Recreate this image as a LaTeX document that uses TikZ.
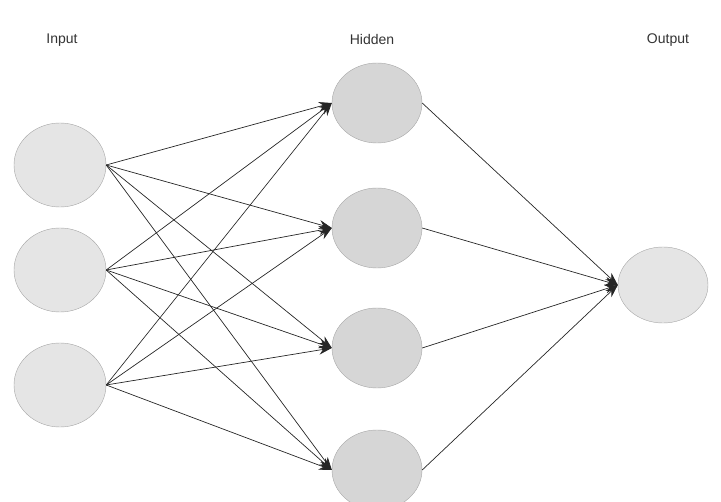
\documentclass[tikz,border=0pt]{standalone}
\usepackage{fontspec}
\setmainfont{Liberation Sans}
\usetikzlibrary{shapes.geometric,arrows.meta}
\begin{document}
\begin{tikzpicture}[x=1pt,y=-1pt,
  inn/.style={ellipse,draw=gray!70,fill=black!10,minimum width=92pt,minimum height=84pt,inner sep=0pt},
  hid/.style={ellipse,draw=gray!70,fill=black!16,minimum width=90pt,minimum height=80pt,inner sep=0pt},
  con/.style={-{Stealth[length=13pt,width=9pt]},black!85,line width=0.7pt},
  lab/.style={font=\fontsize{14}{16}\selectfont,text=black!80}]
\useasboundingbox (0,0) rectangle (721,502);
\node[lab] (li) at (62,40) {Input};
\node[lab] (lh) at (372,40) {Hidden};
\node[lab] (lo) at (668,40) {Output};
\node[inn] (i1) at (60,165) {};
\node[inn] (i2) at (60,270) {};
\node[inn] (i3) at (60,385) {};
\node[hid] (h1) at (377,103) {};
\node[hid] (h2) at (377,228) {};
\node[hid] (h3) at (377,348) {};
\node[hid] (h4) at (377,470) {};
\node[inn,minimum width=90pt,minimum height=76pt] (o) at (663,285) {};
\foreach \i in {1,2,3}{\foreach \h in {1,2,3,4}{\draw[con] (i\i.east) -- (h\h.west);}}
\foreach \h in {1,2,3,4}{\draw[con] (h\h.east) -- (o.west);}
\end{tikzpicture}
\end{document}
